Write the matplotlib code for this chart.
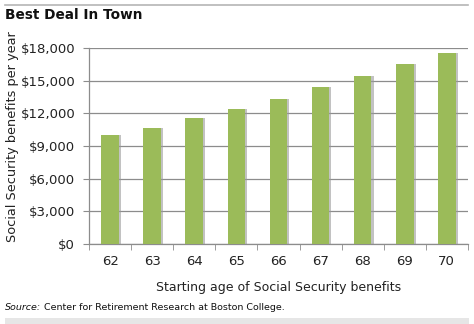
import numpy as np
import matplotlib.pyplot as plt
from matplotlib.ticker import FuncFormatter

ages = [62, 63, 64, 65, 66, 67, 68, 69, 70]
benefits = [10000, 10650, 11550, 12400, 13300, 14400, 15450, 16500, 17550]
yticks = [0, 3000, 6000, 9000, 12000, 15000, 18000]

green = '#9bbb59'
grid_col = '#8c8c8c'

fig = plt.figure(figsize=(4.74, 3.24), dpi=100)
ax = fig.add_axes([0.188, 0.247, 0.799, 0.605])

x = np.arange(len(ages))
# soft shadow behind the bars
ax.bar(x + 0.05, benefits, width=0.42, color='#9a9a9a', alpha=0.6, zorder=2)
ax.bar(x, benefits, width=0.42, color=green, zorder=3)

ax.set_xlim(-0.5, len(ages) - 0.5)
ax.set_ylim(0, 18000)
ax.set_yticks(yticks)
ax.yaxis.set_major_formatter(FuncFormatter(lambda v, p: '${:,.0f}'.format(v)))
ax.set_xticks(x)
ax.set_xticklabels([str(a) for a in ages])
ax.set_xticks(np.arange(len(ages) + 1) - 0.5, minor=True)

ax.grid(axis='y', color=grid_col, linewidth=0.9, zorder=1)
ax.set_axisbelow(True)
for s in ['top', 'right']:
    ax.spines[s].set_visible(False)
for s in ['left', 'bottom']:
    ax.spines[s].set_color(grid_col)
    ax.spines[s].set_linewidth(0.9)

ax.tick_params(axis='x', which='major', length=0, labelsize=9.5, pad=8, colors='#222222')
ax.tick_params(axis='x', which='minor', length=4, color=grid_col)
ax.tick_params(axis='y', length=4, color=grid_col, labelsize=9.5, labelcolor='#222222', pad=6)

ax.set_xlabel('Starting age of Social Security benefits', fontsize=9, color='#222222', labelpad=9)
fig.text(0.026, 0.577, 'Social Security benefits per year', fontsize=9.3, color='#222222',
         rotation=90, ha='center', va='center')

fig.text(0.011, 0.953, 'Best Deal In Town', fontsize=9.8, fontweight='bold', color='#111111', va='center')
src = fig.text(0.011, 0.05, 'Source:', fontsize=6.8, style='italic', color='#111111', va='center')
fig.canvas.draw()
bb = src.get_window_extent().transformed(fig.transFigure.inverted())
fig.text(bb.x1 + 0.005, 0.05, 'Center for Retirement Research at Boston College.', fontsize=6.8,
         color='#111111', va='center')

fig.add_artist(plt.Line2D([0.011, 0.988], [0.985, 0.985], color='#b5b5b5', linewidth=1.2))
fig.add_artist(plt.Rectangle((0.011, 0.0), 0.978, 0.02, color='#e6e6e6', linewidth=0))

fig.savefig('out.png', dpi=100)
